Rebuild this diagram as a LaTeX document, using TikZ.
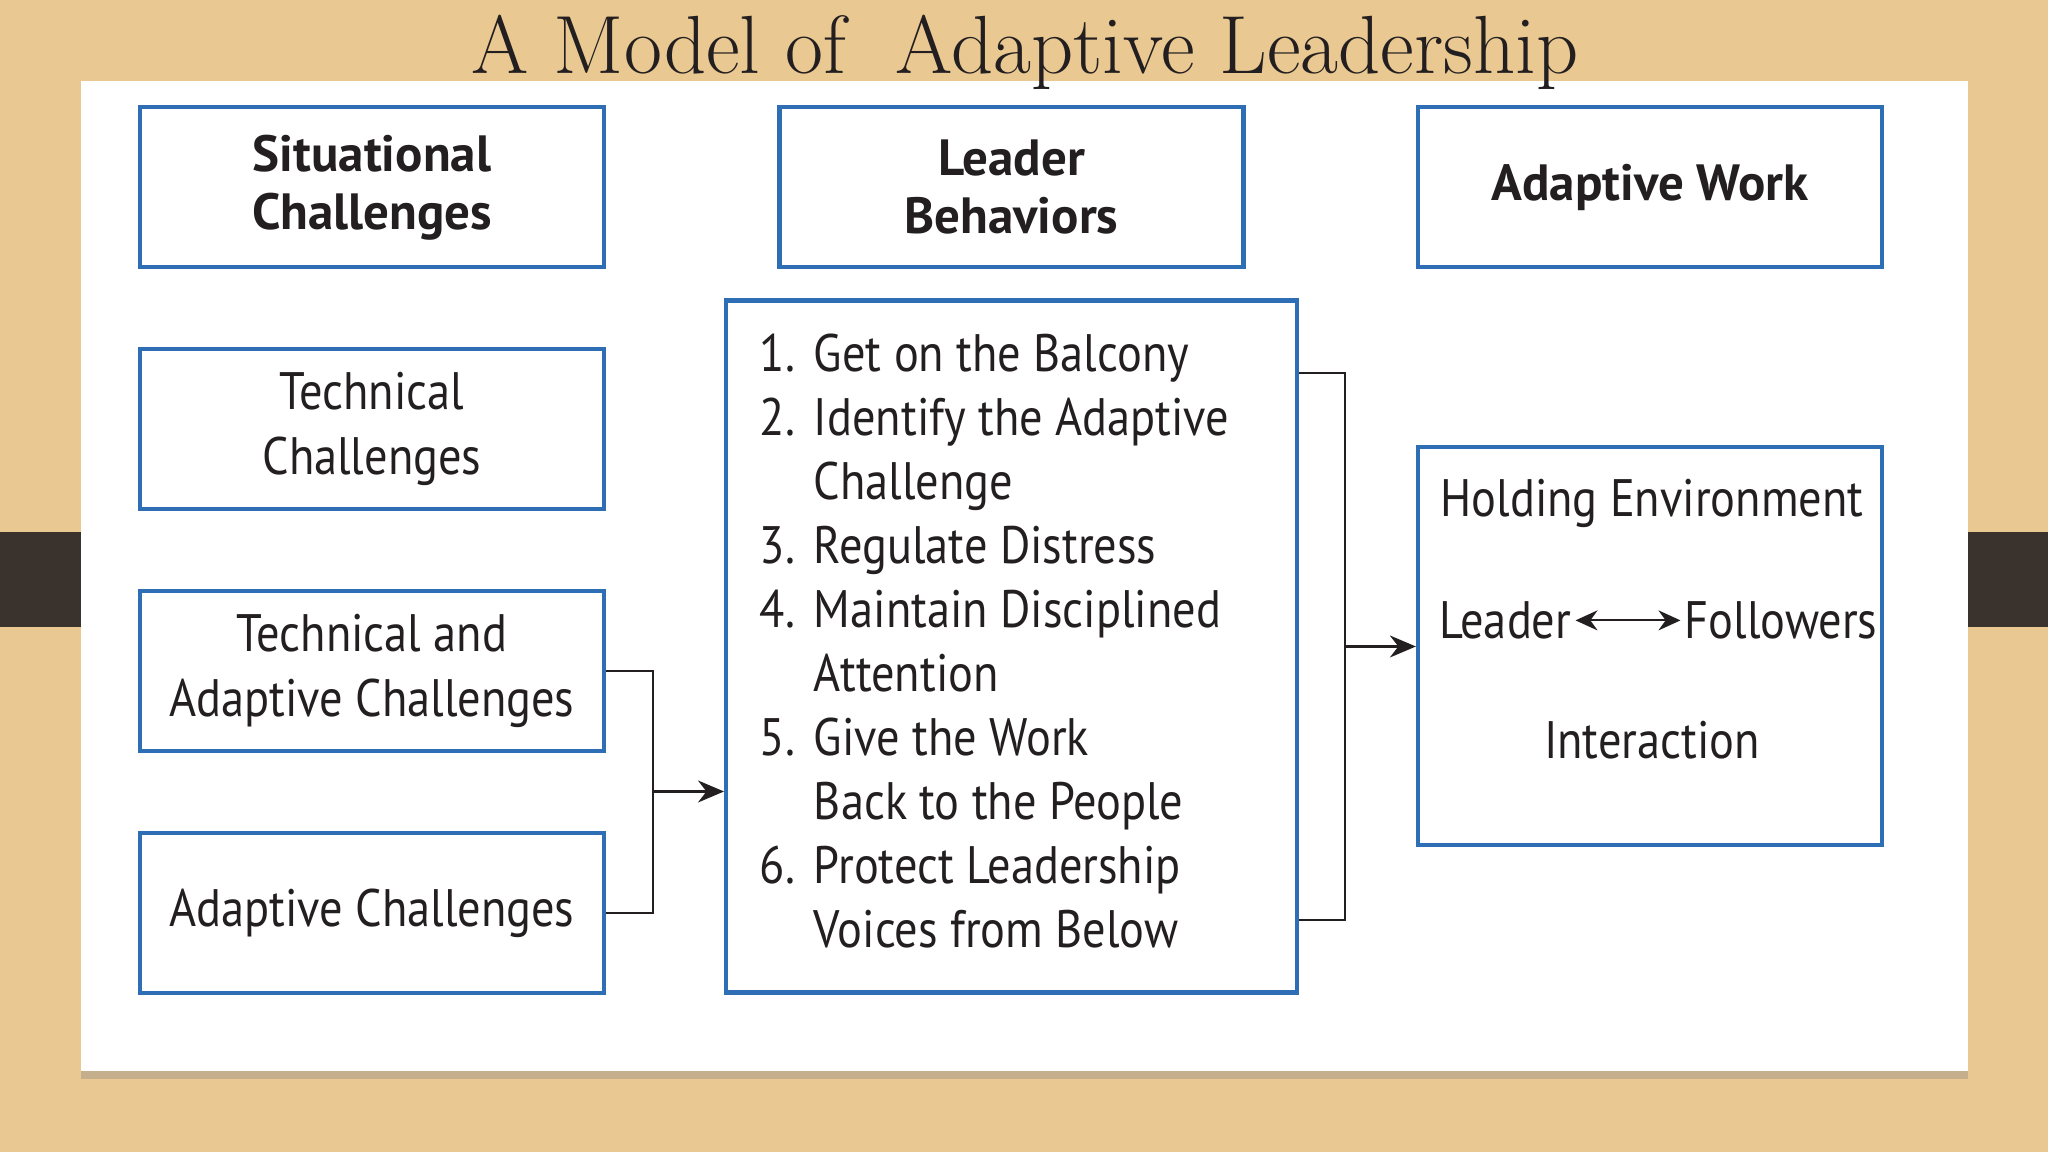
\documentclass[tikz,border=0pt]{standalone}
\usepackage{fontspec}
\newfontfamily\diafont{PT Sans}[FakeStretch=0.88]
\newfontfamily\hdrfont{PT Sans}
\usetikzlibrary{positioning, calc, arrows.meta, shadows}
\definecolor{wood}{RGB}{233,200,146}
\definecolor{stripe}{RGB}{58,50,44}
\definecolor{boxblue}{RGB}{46,110,180}
\definecolor{ink}{RGB}{35,31,32}
\tikzset{
  blk/.style={draw=boxblue, line width=1.2pt, fill=white, minimum width=4.64cm, minimum height=1.6cm,
    align=center, text=ink, inner sep=0pt, font=\diafont\fontsize{15}{18.5}\selectfont},
  hdr/.style={blk, font=\hdrfont\bfseries\fontsize{14.5}{16.5}\selectfont},
  txt/.style={text=ink, inner sep=0pt, font=\diafont\fontsize{15}{18.2}\selectfont},
  link/.style={draw=ink, line width=0.6pt},
}
\begin{document}
\begin{tikzpicture}
\useasboundingbox (0,0) rectangle (20.48,11.52);
\fill[wood] (0,0) rectangle (20.48,11.52);
\fill[stripe] (0,5.25) rectangle (20.48,6.2);
\fill[white,drop shadow={shadow xshift=0cm,shadow yshift=-0.08cm,opacity=0.35}] (0.81,0.81) rectangle (19.68,10.71);
\node[text=ink,font=\fontsize{23.5}{28}\selectfont] (title) at (10.25,11.0) {A Model of\ \ Adaptive Leadership};

% column heads
\node[hdr] (sit) at (3.72,9.646) {Situational\\Challenges};
\node[hdr] (beh) at (10.115,9.646) {Leader\\Behaviors};
\node[hdr] (work) at (16.50,9.646) {Adaptive Work};

% situational challenges
\node[blk] (tech) at (3.72,7.229) {Technical\\Challenges};
\node[blk] (both) at (3.72,4.813) {Technical and\\Adaptive Challenges};
\node[blk] (adap) at (3.72,2.390) {Adaptive Challenges};

% leader behaviors
\node[blk,minimum width=5.71cm,minimum height=6.92cm] (list) at (10.116,5.055) {};
\node[txt,anchor=west] (steps) at ($(list.west)+(0.353,0)$) {%
\begin{tabular}{@{}p{0.54cm}@{}l@{}}
1. & Get on the Balcony\\
2. & Identify the Adaptive\\
   & Challenge\\
3. & Regulate Distress\\
4. & Maintain Disciplined\\
   & Attention\\
5. & Give the Work\\
   & Back to the People\\
6. & Protect Leadership\\
   & Voices from Below
\end{tabular}};

% adaptive work
\node[blk,minimum height=3.98cm] (hold) at (16.50,5.06) {};
\node[txt] (env) at (16.52,6.49) {Holding Environment};
\node[txt,anchor=east] (leader) at (15.72,5.316) {Leader};
\node[txt,right=1.12cm of leader] (follow) {Followers};
\draw[link,{Stealth[length=2.2mm,width=2mm]}-{Stealth[length=2.2mm,width=2mm]},shorten <=1pt,shorten >=1pt] (leader) -- (follow);
\node[txt] (inter) at (16.52,4.114) {Interaction};

% connectors
\coordinate (lmid) at (6.531,3.605);
\draw[link] (both.east) -| (lmid) |- (adap.east);
\draw[link,-{Stealth[length=2.6mm,width=2.2mm]}] (lmid) -- (lmid -| list.west);
\coordinate (rtop) at ([yshift=-0.745cm]list.north east);
\coordinate (rbot) at ([yshift=0.745cm]list.south east);
\coordinate (rmid) at (13.453,5.055);
\draw[link] (rtop) -| (rmid) |- (rbot);
\draw[link,-{Stealth[length=2.6mm,width=2.2mm]}] (rmid) -- (rmid -| hold.west);

\end{tikzpicture}
\end{document}
